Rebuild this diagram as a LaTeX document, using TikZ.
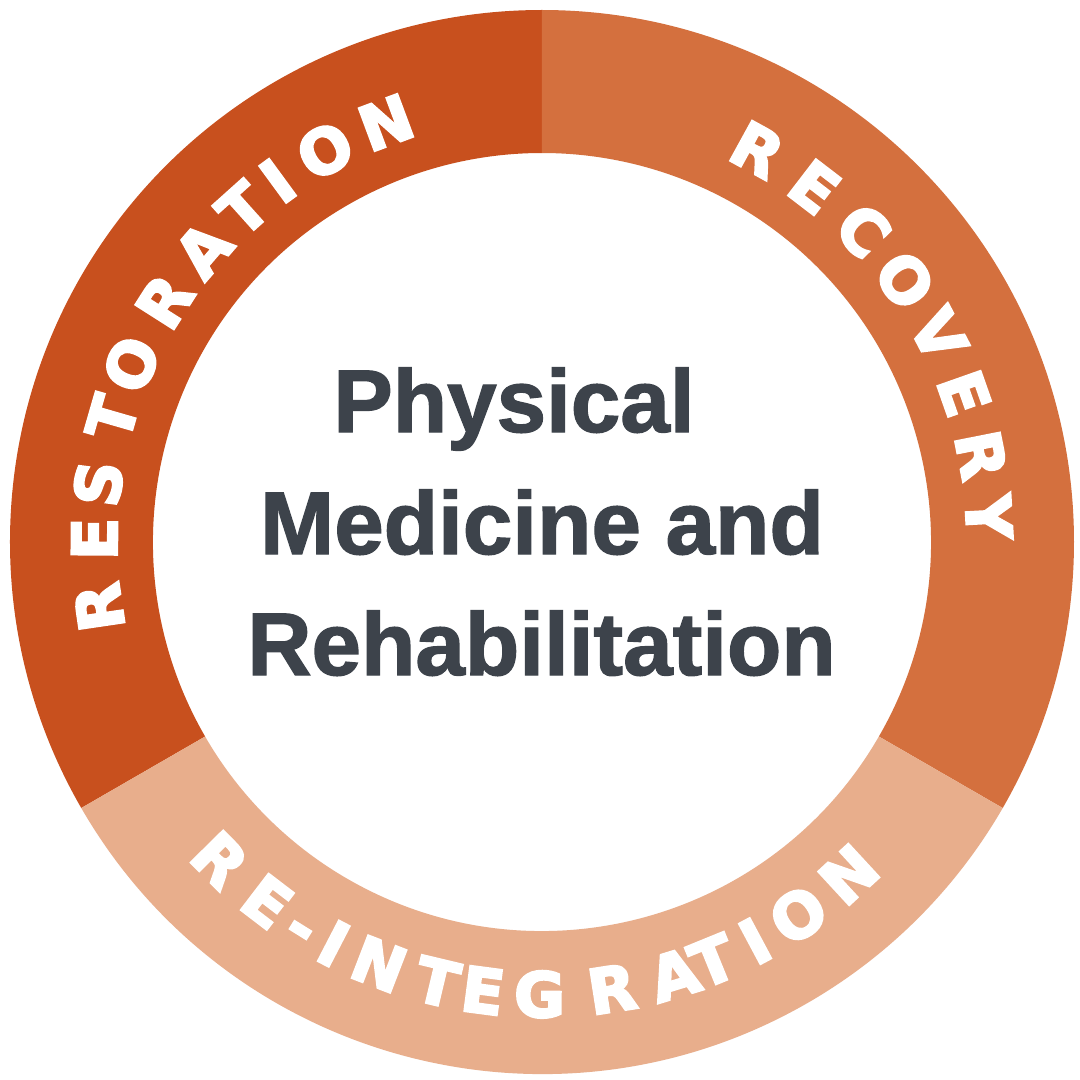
\documentclass[tikz,border=0pt]{standalone}
\usepackage{fontspec}
\setmainfont{Liberation Sans}
\newfontfamily\ringfont{DejaVu Sans Bold}[FakeBold=4]
\newfontfamily\centerfont{Liberation Sans Bold}[FakeBold=1.5]
\definecolor{cRest}{HTML}{C8501E}
\definecolor{cRecov}{HTML}{D4703E}
\definecolor{cInteg}{HTML}{E8AE8C}
\definecolor{textgray}{HTML}{3D434B}
\tikzset{
  ringletter/.style={font=\ringfont\fontsize{62}{62}\selectfont, text=white, inner sep=0pt, anchor=base},
  centertext/.style={font=\centerfont\fontsize{89}{108}\selectfont, text=textgray, inner sep=0pt, anchor=base},
  sector/.style={draw=none}
}
\begin{document}
\begin{tikzpicture}
\fill[white] (-542pt,-538pt) rectangle (538pt,542pt);
\useasboundingbox (-542pt,-538pt) rectangle (538pt,542pt);
% ring sectors
\fill[cRest, sector] (90:532pt) arc[start angle=90, end angle=210, radius=532pt] -- (210:389pt) arc[start angle=210, end angle=90, radius=389pt] -- cycle;
\fill[cRecov, sector] (90:532pt) arc[start angle=90, end angle=-30, radius=532pt] -- (-30:389pt) arc[start angle=-30, end angle=90, radius=389pt] -- cycle;
\fill[cInteg, sector] (210:532pt) arc[start angle=210, end angle=330, radius=532pt] -- (330:389pt) arc[start angle=330, end angle=210, radius=389pt] -- cycle;
% RESTORATION
\foreach \a/\l [count=\i] in {188.4/R, 179.6/E, 172.5/S, 163.9/T, 156.6/O, 147.5/R, 139.2/A, 131.9/T, 126.2/I, 119.0/O, 110.4/N}
  \node[ringletter, rotate=\a-90] (rest\i) at (\a:425pt) {\l};
% RECOVERY
\foreach \a/\l [count=\i] in {61.25/R, 52.5/E, 44.1/C, 35.8/O, 27.6/V, 19.4/E, 11.2/R, 3.2/Y}
  \node[ringletter, rotate=\a-90] (recov\i) at (\a:425pt) {\l};
% RE-INTEGRATION
\foreach \a/\l [count=\i] in {224.6/R, 232.6/E, 238.1/-, 242.6/I, 248.9/N, 256.6/T, 262.5/E, 269.7/G, 278.9/R, 287.0/A, 292.2/T, 298.1/I, 304.5/O, 312.7/N}
  \node[ringletter, rotate=\a+90] (integ\i) at (\a:475pt) {\l};
% centre title
\node[centertext] (line1) at (-28pt,110pt) {Physical};
\node[centertext] (line2) at (0pt,-12pt) {Medicine and};
\node[centertext] (line3) at (-0.5pt,-133pt) {Rehabilitation};
\end{tikzpicture}
\end{document}
